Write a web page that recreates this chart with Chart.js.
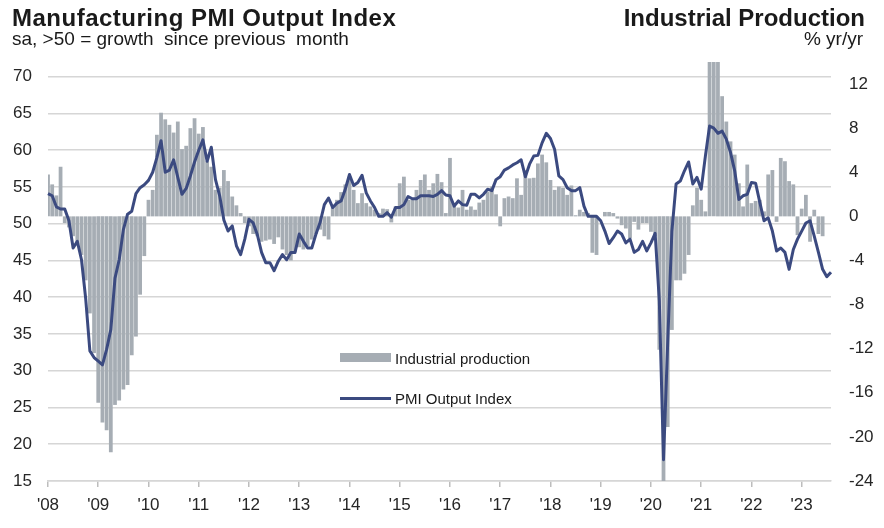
<!DOCTYPE html>
<html>
<head>
<meta charset="utf-8">
<script src="https://cdn.jsdelivr.net/npm/chart.js@4.4.0/dist/chart.umd.min.js"></script>
<style>
  body { margin: 0; background: #fff; }
  #wrap { position: relative; width: 884px; height: 528px; font-family: "Liberation Sans", Arial, sans-serif; color: #1a1a1a; }
  #chart { position: absolute; left: 0; top: 0; }
  .title { position: absolute; top: 6px; font-weight: bold; font-size: 24px; line-height: 24px; white-space: nowrap; }
  .sub { position: absolute; top: 29px; font-size: 19px; line-height: 19px; white-space: nowrap; }
  .legend-text { position: absolute; left: 395px; font-size: 15px; line-height: 15px; white-space: nowrap; }
  .swatch { position: absolute; left: 340px; width: 51px; }
</style>
</head>
<body>
<div id="wrap">
  <canvas id="chart" width="884" height="528"></canvas>
  <div class="title" style="left:12px; letter-spacing:0.5px">Manufacturing PMI Output Index</div>
  <div class="sub" style="left:12px">sa, &gt;50 = growth&nbsp; since previous&nbsp; month</div>
  <div class="title" style="right:19px">Industrial Production</div>
  <div class="sub" style="right:21px">% yr/yr</div>

  <div class="swatch" style="top:353px; height:9px; background:#a6adb4"></div>
  <div class="legend-text" style="top:351px">Industrial production</div>
  <div class="swatch" style="top:397px; height:3px; background:#3b4a80"></div>
  <div class="legend-text" style="top:391px">PMI Output Index</div>
</div>
<script>
// monthly, Jan 2008 .. Aug 2023
const firstYear = 2008;
const lastYear = 2023;
const lastMonthOfLastYear = 8;

const yearTicks = ["'08", "'09", "'10", "'11", "'12", "'13", "'14", "'15",
                   "'16", "'17", "'18", "'19", "'20", "'21", "'22", "'23"];
const leftTicks = [15, 20, 25, 30, 35, 40, 45, 50, 55, 60, 65, 70];
const rightTicks = [-24, -20, -16, -12, -8, -4, 0, 4, 8, 12];

// Manufacturing PMI Output Index (left axis)
const pmiOutput = [
  54.1, 53.8, 52.3, 52.0, 52.0, 50.4, 46.7, 47.6, 45.1, 39.8, 32.7, 31.8, // 2008
  31.3, 30.8, 32.9, 35.6, 42.6, 45.1, 49.2, 51.3, 51.7, 54.1, 54.9, 55.3, // 2009
  55.9, 57.0, 59.0, 61.3, 57.0, 57.3, 58.7, 56.3, 54.0, 54.8, 56.5, 58.4, // 2010
  60.0, 61.4, 58.5, 60.4, 56.0, 53.8, 50.5, 49.0, 49.7, 47.0, 45.8, 47.9, // 2011
  50.6, 50.1, 48.5, 46.1, 44.7, 44.7, 43.6, 44.9, 45.8, 45.1, 46.1, 46.1, // 2012
  48.6, 47.6, 46.7, 46.7, 48.6, 50.2, 52.6, 53.5, 52.2, 52.8, 53.1, 54.7, // 2013
  56.7, 55.2, 55.6, 56.6, 54.2, 53.1, 52.2, 51.0, 51.0, 51.5, 50.9, 52.2, // 2014
  52.2, 52.6, 53.7, 53.4, 53.4, 53.8, 53.8, 53.8, 53.7, 54.0, 54.5, 53.9, // 2015
  53.8, 52.4, 53.1, 52.6, 52.5, 54.0, 54.0, 53.5, 54.0, 54.7, 54.5, 56.0, // 2016
  56.4, 57.3, 57.6, 58.0, 58.3, 58.7, 56.4, 58.1, 59.2, 59.3, 61.0, 62.3, // 2017
  61.6, 60.1, 56.5, 56.0, 54.9, 54.5, 54.5, 54.9, 52.4, 51.0, 51.0, 51.0, // 2018
  50.4, 49.0, 47.3, 48.1, 49.0, 48.6, 47.4, 47.9, 46.1, 46.5, 47.6, 46.3, // 2019
  47.4, 48.7, 39.5, 17.9, 33.8, 49.0, 55.4, 55.8, 57.2, 58.4, 55.4, 56.3, // 2020
  54.7, 59.2, 63.3, 63.0, 62.3, 62.6, 61.5, 59.7, 57.2, 53.3, 53.8, 54.0, // 2021
  55.6, 55.5, 52.9, 50.4, 50.8, 49.0, 46.3, 46.7, 46.1, 43.8, 46.5, 47.9, // 2022
  49.0, 50.1, 50.4, 48.3, 46.1, 43.8, 42.8, 43.4                          // 2023
];

// Industrial production, % yr/yr (right axis), to Jun 2023
const industrialProduction = [
  3.8, 2.9, 1.9, 4.5, -0.6, -1.0, -1.8, -2.5, -3.5, -5.8, -8.8, -12.4,          // 2008
  -16.9, -18.7, -19.4, -21.4, -17.1, -16.7, -15.7, -15.3, -12.6, -10.9, -7.1, -3.6, // 2009
  1.5, 2.4, 7.4, 9.4, 8.8, 8.3, 7.6, 8.6, 6.1, 6.4, 8.0, 8.9,                   // 2010
  7.5, 8.1, 5.0, 4.5, 2.4, 2.6, 4.2, 3.2, 1.8, 1.0, 0.3, -0.6,                  // 2011
  -0.9, -1.6, -1.8, -2.3, -2.2, -2.1, -2.5, -1.9, -3.0, -3.5, -4.0, -3.2,       // 2012
  -2.8, -3.0, -2.7, -2.1, -1.6, -1.2, -1.8, -2.1, 0.9, 1.5, 2.2, 2.9,           // 2013
  3.6, 2.4, 1.2, 2.1, 1.2, 0.9, 0.6, 0.3, 0.7, 0.65, -0.55, 0.9,                // 2014
  3.0, 3.6, 1.5, 1.5, 2.4, 3.3, 3.8, 2.4, 3.0, 3.85, 3.1, 0.3,                  // 2015
  5.3, 1.0, 0.8, 2.4, 0.6, 0.9, 0.6, 1.25, 1.5, 2.25, 2.7, 2.0,                 // 2016
  -0.9, 1.65, 1.8, 1.65, 3.45, 1.95, 4.2, 3.45, 3.5, 4.8, 5.6, 4.9,             // 2017
  3.3, 2.4, 2.7, 2.6, 1.95, 2.8, 0.1, 0.6, 0.4, 0.3, -3.3, -3.5,                // 2018
  0.0, 0.4, 0.4, 0.3, -0.2, -0.8, -1.1, -2.0, -0.5, -1.2, -0.6, -0.6,           // 2019
  -1.4, -1.8, -12.1, -28.0, -19.1, -10.3, -5.8, -5.8, -5.2, -3.5, 1.0, 2.6,     // 2020
  1.5, 0.45, 15.0, 39.6, 20.5, 10.9, 8.6, 6.8, 5.6, 3.0, 0.9, 4.7,              // 2021
  1.2, 1.4, 1.5, 0.45, 3.8, 4.2, -0.5, 5.3, 5.0, 3.2, 2.9, -1.7,                // 2022
  0.7, 1.95, -2.3, 0.6, -1.6, -1.8                                              // 2023
];

const months = [];
for (let y = firstYear; y <= lastYear; y++) {
  const last = y === lastYear ? lastMonthOfLastYear : 12;
  for (let m = 1; m <= last; m++) months.push(y + "-" + String(m).padStart(2, "0"));
}

const gridColor = "#d6d6d6";
const tickFont = { family: "'Liberation Sans', Arial, sans-serif", size: 17 };
const tickColor = "#262626";

new Chart(document.getElementById("chart"), {
  type: "bar",
  data: {
    labels: months,
    datasets: [
      {
        type: "line",
        label: "PMI Output Index",
        data: pmiOutput,
        yAxisID: "y",
        borderColor: "#3b4a80",
        borderWidth: 3,
        borderJoinStyle: "round",
        pointRadius: 0,
        tension: 0,
        order: 0,
      },
      {
        type: "bar",
        label: "Industrial production",
        data: industrialProduction,
        yAxisID: "y2",
        backgroundColor: "#a6adb4",
        barPercentage: 0.9,
        categoryPercentage: 1,
        order: 1,
      },
    ],
  },
  options: {
    responsive: false,
    animation: false,
    devicePixelRatio: 1,
    layout: { padding: { top: 62 } },
    plugins: { legend: { display: false }, tooltip: { enabled: false } },
    scales: {
      x: {
        type: "category",
        offset: false,
        grid: {
          offset: false,
          drawOnChartArea: false,
          tickLength: 6,
          lineWidth: 1.5,
          color: ctx => (ctx.index % 12 === 0 ? "#bdbdbd" : "rgba(0,0,0,0)"),
        },
        border: { color: gridColor, width: 1.5 },
        ticks: {
          autoSkip: false,
          maxRotation: 0,
          minRotation: 0,
          padding: 8,
          font: tickFont,
          color: tickColor,
          callback: (v, i) => (i % 12 === 0 ? yearTicks[i / 12] : ""),
        },
        afterFit: s => { s.height = 47; },
      },
      y: {
        position: "left",
        min: 15,
        max: 72,
        ticks: { padding: 16, font: tickFont, color: tickColor },
        grid: { color: gridColor, lineWidth: 1.5, drawTicks: false },
        border: { display: false },
        afterBuildTicks: s => { s.ticks = leftTicks.map(v => ({ value: v })); },
        afterFit: s => { s.width = 48; },
      },
      y2: {
        position: "right",
        min: -24,
        max: 14,
        ticks: { padding: 18, font: tickFont, color: tickColor },
        grid: { display: false, drawTicks: false },
        border: { display: false },
        afterBuildTicks: s => { s.ticks = rightTicks.map(v => ({ value: v })); },
        afterFit: s => { s.width = 53; },
      },
    },
  },
});
</script>
</body>
</html>
